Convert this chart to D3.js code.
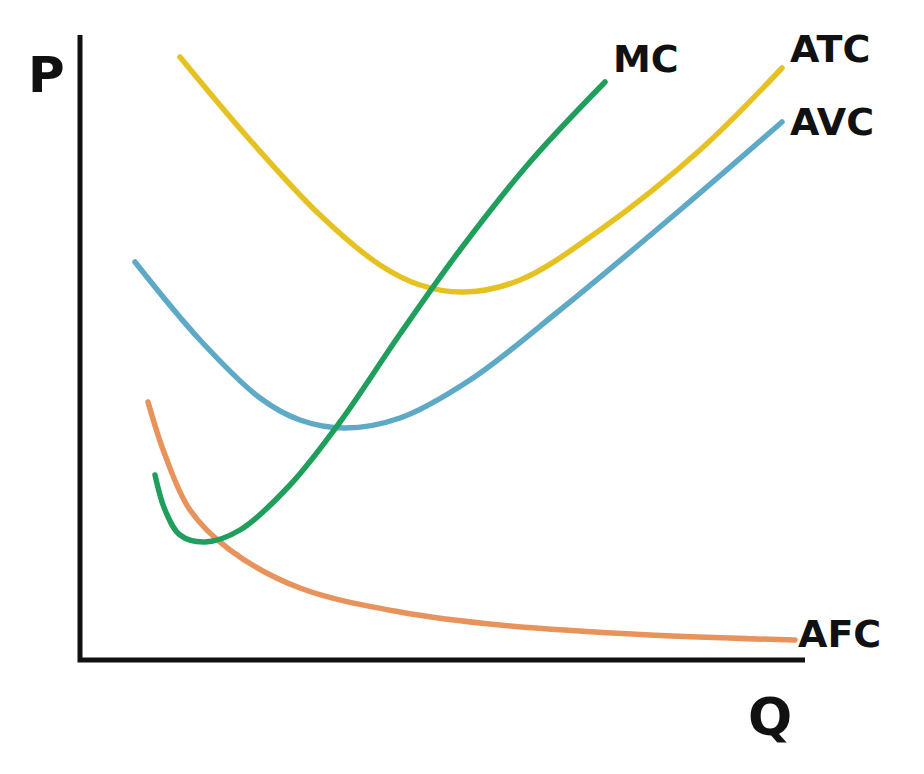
<!DOCTYPE html>
<html><head><meta charset="utf-8">
<script src="https://cdn.jsdelivr.net/npm/d3@7"></script>
<style>body{margin:0;background:#fff}</style>
</head><body><div id="chart"></div>
<script>
// curve points, in plot units (Q across, P up)
var atc = [[100,603],[170,520],[240,445],[300,395],[340,375],[385,368],[440,380],[520,430],[620,510],[702,592]];
var avc = [[55,398],[120,320],[180,262],[220,240],[265,232],[320,242],[390,280],[480,350],[600,450],[702,538]];
var mc = [[75,185],[85,150],[100,125],[125,118],[160,130],[210,175],[260,238],[320,326],[380,410],[450,498],[525,578]];
var afc = [[68,258],[85,205],[110,150],[150,110],[220,72],[320,48],[420,35],[570,25],[715,20]];
var curveNames = ["ATC","AVC","MC","AFC"];

var w = 924, h = 774;
var svg = d3.select("#chart").append("svg").attr("width", w).attr("height", h);
var x = d3.scaleLinear().domain([0,725]).range([80,805]);
var y = d3.scaleLinear().domain([0,625]).range([660,35]);

var line = d3.line().x(function(d){return x(d[0]);}).y(function(d){return y(d[1]);}).curve(d3.curveCatmullRom);

var series = [
	{name:"AFC", data:afc, color:"#e8935c"},
	{name:"AVC", data:avc, color:"#5eaac6"},
	{name:"ATC", data:atc, color:"#e5c222"},
	{name:"MC", data:mc, color:"#1f9e5c"}
];
series.forEach(function(s){
	svg.append("path").attr("d", line(s.data)).attr("fill","none")
		.attr("stroke", s.color).attr("stroke-width", 5.5).attr("stroke-linecap","round");
});

// axes
svg.append("path").attr("d","M"+x(0)+","+y(625)+"V"+y(0)+"H"+x(725))
	.attr("fill","none").attr("stroke","#111").attr("stroke-width",5);

var font = "'DejaVu Sans', sans-serif";
function label(t, px, py, size){
	svg.append("text").text(t).attr("x",px).attr("y",py).attr("font-family",font)
		.attr("font-weight","bold").attr("font-size",size).attr("fill","#111");
}
label("P", 28, 92, 50);
label("Q", 748, 735, 52);
label(curveNames[0], 790, 62, 38);
label(curveNames[1], 790, 135, 38);
label(curveNames[2], 613, 72, 38);
label(curveNames[3], 798, 647, 38);
</script></body></html>
